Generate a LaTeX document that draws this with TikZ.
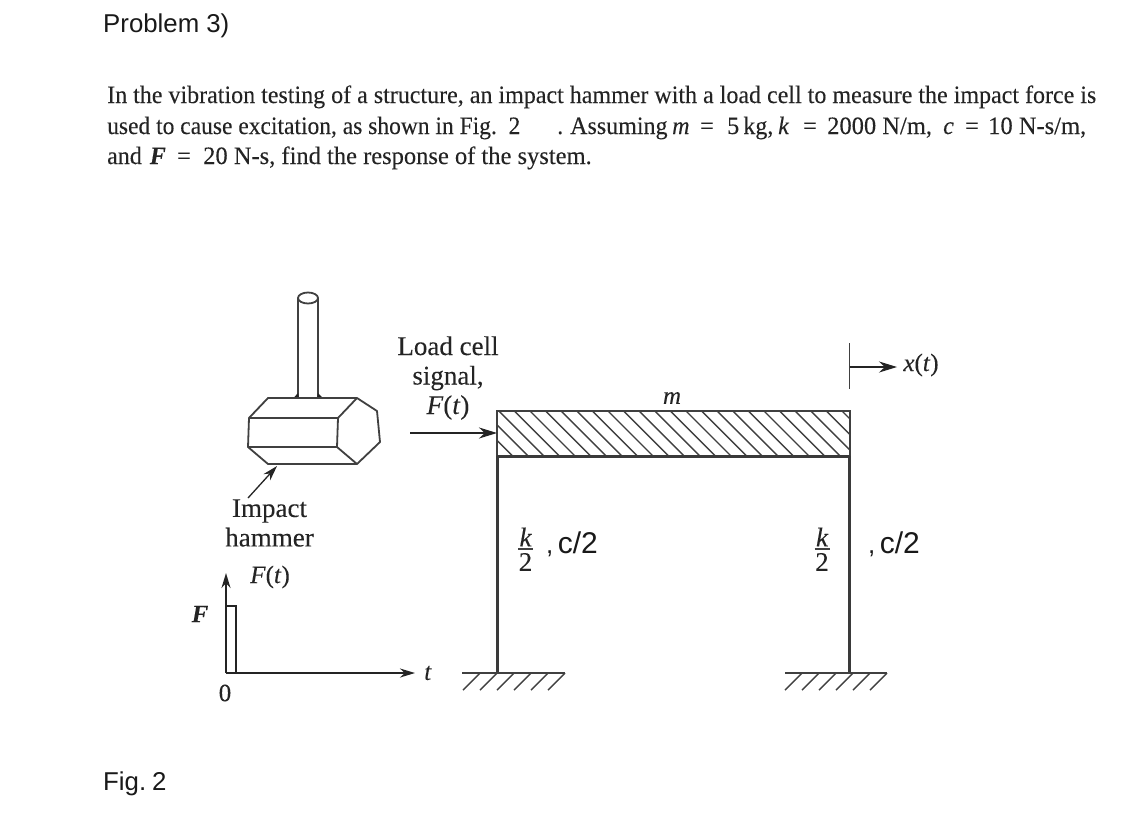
\documentclass[tikz,border=0pt]{standalone}
\usepackage{fontspec}
\setmainfont{Liberation Serif}[FakeBold=0.12]
\newfontfamily\uifont{Liberation Sans}
\newfontfamily\condfont{Liberation Serif}[FakeStretch=0.96,FakeBold=0.12]
\newfontfamily\tightfont{Liberation Serif}[FakeStretch=0.94,FakeBold=0.12]
\newfontfamily\widefont{Liberation Serif}[FakeStretch=0.98,FakeBold=0.12]
\usetikzlibrary{arrows.meta}
\definecolor{ink}{gray}{0.14}
\definecolor{linegray}{gray}{0.25}
\newcommand{\bodytxt}{\fontsize{25}{30}\selectfont\condfont}
\newcommand{\figtxt}{\fontsize{27}{29.5}\selectfont}
\newcommand{\smalltxt}{\fontsize{25}{29}\selectfont}
\newcommand{\uitxt}{\fontsize{25.8}{30}\selectfont\uifont}
\newcommand{\cvalue}{\fontsize{25.8}{30}\selectfont\uifont ,\hspace{4.5pt}\fontsize{30}{34}\selectfont c/2}
\tikzset{
  body/.style={inner sep=0pt,anchor=base west,text=ink,font=\bodytxt},
  ui/.style={inner sep=0pt,anchor=base west,text=black!90,font=\uitxt},
  fig/.style={inner sep=0pt,text=ink,font=\figtxt,align=center},
  sfig/.style={inner sep=0pt,text=ink,font=\smalltxt,align=center},
  hammerline/.style={draw=linegray,line width=1.8pt,line join=round},
  frameline/.style={draw=ink!90,line width=3pt},
  thinline/.style={draw=linegray,line width=1.3pt},
  hatchline/.style={draw=linegray,line width=1.4pt},
  thinarrow/.style={draw=ink,line width=1.3pt,-{Stealth[length=15pt,width=9pt]}},
  mainarrow/.style={draw=ink,line width=2.2pt,-{Stealth[length=18pt,width=11pt]}}
}
\begin{document}
\begin{tikzpicture}[x=1pt,y=-1pt]
\useasboundingbox (0,0) rectangle (1131,815);
\fill[white] (0,0) rectangle (1131,815);
% header text
\node[ui] (title) at (103,32) {Problem 3)};
\node[ui] (figlabel) at (103,790) {Fig.\hspace{6pt}2};
\node[body] (l1) at (107,103) {In the vibration testing of a structure, an impact hammer with a load cell to measure the impact force is};
\node[body,font=\bodytxt\tightfont] (l2a) at (107,134) {used to cause excitation, as shown in Fig.\ \ 2};
\node[body] (l2dot) at (557,134) {.};
\node[body] (l2b) at (570,134) {Assuming};
\node[body] (l2m) at (672,134) {\itshape m};
\node[body] (l2e1) at (700,134) {=};
\node[body] (l2c) at (727,134) {5\,kg,};
\node[body] (l2k) at (778,134) {\itshape k};
\node[body] (l2e2) at (803,134) {=};
\node[body,font=\bodytxt\widefont] (l2d) at (827,134) {2000 N/m,};
\node[body] (l2cc) at (943,134) {\itshape c};
\node[body] (l2e3) at (965,134) {=};
\node[body,font=\bodytxt\widefont] (l2f) at (988,134) {10 N-s/m,};
\node[body] (l3a) at (107,164) {and\hspace{8pt}\textbf{\textit{F}}};
\node[body] (l3e) at (177,164) {=};
\node[body,font=\bodytxt\widefont] (l3b) at (203,164) {20 N-s, find the response of the system.};
% hammer handle
\draw[hammerline] (298,398) -- (298,298) (318,298) -- (318,398);
\draw[hammerline] (308,298) ellipse [x radius=10,y radius=5.5];
\fill[ink] (293.5,398) -- (298,393) -- (299,398) -- cycle;
\fill[ink] (317,398) -- (318,393) -- (323,398) -- cycle;
% hammer head
\draw[hammerline] (249,418) -- (268,398) -- (357,398) -- (377,411) -- (380,442) -- (357,464) -- (268,464) -- (248,447) -- cycle;
\draw[hammerline] (249,418) -- (338,418) -- (357,398);
\draw[hammerline] (248,447) -- (337,447) -- (357,464);
\draw[hammerline] (338,418) -- (337,447);
\coordinate (headbottom) at (277,466);
% labels
\node[fig] (impact) at (269.5,523) {Impact\\hammer};
\draw[thinarrow] (248,498) -- (headbottom);
\node[fig] (load) at (448,378) {Load cell\\signal,\\\textit{F}(\textit{t})};
% beam
\coordinate (beamNW) at (497,411);
\coordinate (beamSE) at (850,456);
\coordinate (beamW) at (497,433);
\begin{scope}
\clip (beamNW) rectangle (beamSE);
\foreach \i in {0,...,26} {
  \draw[hatchline] ({452+15.6*\i},411) -- ({497+15.6*\i},456);
}
\end{scope}
\draw[thinline,line width=1.7pt] (beamNW) rectangle (beamSE);
\draw[frameline] (497,456) -- (850,456);
\node[inner sep=0pt,text=ink,font=\fontsize{25}{28}\selectfont\itshape] (mass) at (672,398) {m};
\coordinate (loadstart) at (410,433);
\draw[mainarrow] (loadstart) -- (beamW);
% columns and ground
\coordinate (colLtop) at (497,456);
\coordinate (colLbot) at (497,673);
\coordinate (colRtop) at (849,456);
\coordinate (colRbot) at (849,673);
\draw[frameline] (colLtop) -- (colLbot);
\draw[frameline] (colRtop) -- (colRbot);
\draw[thinline,line width=1.7pt] (462,673) -- (565,673);
\foreach \i in {0,...,5} {
  \draw[hatchline] ({463+17*\i},690) -- ({480+17*\i},673);
}
\draw[thinline,line width=1.7pt] (785,673) -- (887,673);
\foreach \i in {0,...,5} {
  \draw[hatchline] ({785+17*\i},690) -- ({802+17*\i},673);
}
% k/2 labels
\node[fig,font=\fontsize{27}{29}\selectfont\itshape] (kL) at (525.5,537) {k};
\node[fig] (twoL) at (525.5,562) {2};
\draw[draw=linegray,line width=1.3pt] (518,549) -- (533,549);
\node[fig,font=\fontsize{27}{29}\selectfont\itshape] (kR) at (822,537) {k};
\node[fig] (twoR) at (822,562) {2};
\draw[draw=linegray,line width=1.3pt] (814.5,549) -- (829.5,549);
\node[ui] (cL) at (546,553) {\cvalue};
\node[ui] (cR) at (868,553) {\cvalue};
% displacement marker
\coordinate (markT) at (849.5,343);
\coordinate (markB) at (849.5,389);
\coordinate (markM) at (849.5,367);
\coordinate (markE) at (897,367);
\draw[thinline] (markT) -- (markB);
\draw[mainarrow,line width=1.6pt] (markM) -- (markE);
\node[sfig] (xt) at (921,365) {\textit{x}(\textit{t})};
% force plot
\coordinate (origin) at (226,673);
\coordinate (ytip) at (226,573);
\coordinate (xtip) at (415,673);
\draw[thinarrow,line width=1.8pt] (origin) -- (ytip);
\draw[thinarrow,line width=2.1pt] (origin) -- (xtip);
\draw[draw=ink,line width=2.4pt] (226,606) -- (236,606) -- (236,673);
\node[sfig] (tlabel) at (428,673) {\textit{t}};
\node[sfig] (zero) at (225,693) {0};
\node[sfig] (Flabel) at (200,614) {\textbf{\textit{F}}};
\node[sfig] (Ft) at (270,577) {\textit{F}(\textit{t})};
\end{tikzpicture}
\end{document}
